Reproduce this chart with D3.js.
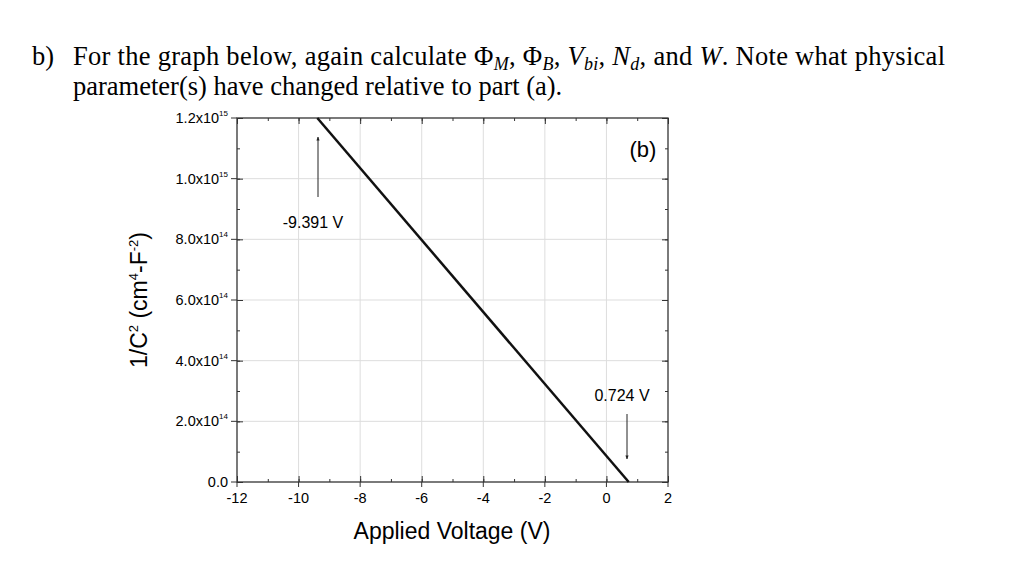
<!DOCTYPE html>
<html><head><meta charset="utf-8">
<script src="https://cdn.jsdelivr.net/npm/d3@7"></script>
<style>body{margin:0;background:#fff}</style></head>
<body><svg id="c" width="1024" height="577"></svg>
<script>
const lineV = [-9.391, 0.724];
const lineY = [1.2e15, 0];
const xTicks = [-12,-10,-8,-6,-4,-2,0,2];
const yTicks = [0,2e14,4e14,6e14,8e14,1e15,1.2e15];
const yTickMant = ["0.0","2.0x10","4.0x10","6.0x10","8.0x10","1.0x10","1.2x10"];
const yTickExp = ["","14","14","14","14","15","15"];

const svg = d3.select("#c");
const x = d3.scaleLinear().domain([-12,2]).range([237,668]);
const y = d3.scaleLinear().domain([0,1.2e15]).range([482,118]);
const serif = "Liberation Serif, Times New Roman, serif";
const sans = "Liberation Sans, Arial, sans-serif";

// header
const HS = 26.5, SS = 18;
svg.append("text").attr("x",32).attr("y",65).attr("font-family",serif).attr("font-size",HS).text("b)");
const t1 = svg.append("text").attr("x",73).attr("y",65).attr("font-family",serif).attr("font-size",HS).attr("textLength",872);
t1.append("tspan").text("For the graph below, again calculate Φ");
t1.append("tspan").attr("font-style","italic").attr("font-size",SS).attr("dy",5).text("M");
t1.append("tspan").attr("dy",-5).text(", Φ");
t1.append("tspan").attr("font-style","italic").attr("font-size",SS).attr("dy",5).text("B");
t1.append("tspan").attr("dy",-5).text(", ");
t1.append("tspan").attr("font-style","italic").text("V");
t1.append("tspan").attr("font-style","italic").attr("font-size",SS).attr("dy",5).text("bi");
t1.append("tspan").attr("dy",-5).text(", ");
t1.append("tspan").attr("font-style","italic").text("N");
t1.append("tspan").attr("font-style","italic").attr("font-size",SS).attr("dy",5).text("d");
t1.append("tspan").attr("dy",-5).text(", and ");
t1.append("tspan").attr("font-style","italic").text("W");
t1.append("tspan").text(". Note what physical");
svg.append("text").attr("x",73).attr("y",95).attr("font-family",serif).attr("font-size",HS)
  .text("parameter(s) have changed relative to part (a).");

// grid
svg.append("g").selectAll("line").data(xTicks.slice(1,-1)).join("line")
  .attr("x1",d=>x(d)).attr("x2",d=>x(d)).attr("y1",118).attr("y2",482).attr("stroke","#ddd");
svg.append("g").selectAll("line").data(yTicks.slice(1,-1)).join("line")
  .attr("y1",d=>y(d)).attr("y2",d=>y(d)).attr("x1",237).attr("x2",668).attr("stroke","#ddd");

const minorX = d3.range(-12,2.01,1), minorY = d3.range(0,1.2e15+1,1e14);
function ax(gen, tr, vals, size){
  svg.append("g").attr("transform",tr).call(gen.tickValues(vals).tickSize(size).tickFormat(""))
   .call(g=>{g.select(".domain").remove(); g.selectAll("line").attr("stroke","#333");});
}
ax(d3.axisBottom(x),"translate(0,482)",xTicks,-6);
ax(d3.axisBottom(x),"translate(0,482)",minorX,-3);
ax(d3.axisTop(x),"translate(0,118)",xTicks,-6);
ax(d3.axisTop(x),"translate(0,118)",minorX,-3);
ax(d3.axisLeft(y),"translate(237,0)",yTicks,-6);
ax(d3.axisLeft(y),"translate(237,0)",minorY,-3);
ax(d3.axisRight(y),"translate(668,0)",yTicks,-6);
ax(d3.axisRight(y),"translate(668,0)",minorY,-3);
svg.append("g").selectAll("line").data(yTicks).join("line").attr("x1",231).attr("x2",237)
  .attr("y1",d=>y(d)).attr("y2",d=>y(d)).attr("stroke","#333");
svg.append("g").selectAll("line").data(xTicks).join("line").attr("y1",482).attr("y2",487)
  .attr("x1",d=>x(d)).attr("x2",d=>x(d)).attr("stroke","#333");
svg.append("rect").attr("x",237).attr("y",118).attr("width",431).attr("height",364)
  .attr("fill","none").attr("stroke","#333").attr("stroke-width",1.3);

// tick labels
svg.append("g").selectAll("text").data(xTicks).join("text")
  .attr("x",d=>x(d)).attr("y",503).attr("text-anchor","middle").attr("font-family",sans).attr("font-size",14.5)
  .text(d=>d);
const yl = svg.append("g").selectAll("text").data(yTicks).join("text")
  .attr("x",228).attr("y",(d,i)=>y(d)+5).attr("text-anchor","end").attr("font-family",sans).attr("font-size",14.5);
yl.append("tspan").text((d,i)=>yTickMant[i]);
yl.append("tspan").attr("font-size",8).attr("dy",-7).text((d,i)=>yTickExp[i]);

// axis titles
svg.append("text").attr("x",452).attr("y",539).attr("text-anchor","middle").attr("font-family",sans)
  .attr("font-size",23).text("Applied Voltage (V)");
const ylab = svg.append("text").attr("transform","translate(147,300) rotate(-90)").attr("text-anchor","middle")
  .attr("font-family",sans).attr("font-size",23);
ylab.append("tspan").text("1/C");
ylab.append("tspan").attr("font-size",13).attr("dy",-9).text("2");
ylab.append("tspan").attr("dy",9).text(" (cm");
ylab.append("tspan").attr("font-size",13).attr("dy",-9).text("4");
ylab.append("tspan").attr("dy",9).text("-F");
ylab.append("tspan").attr("font-size",13).attr("dy",-9).text("-2");
ylab.append("tspan").attr("dy",9).text(")");

// data line
svg.append("path").datum(lineV.map((v,i)=>[v,lineY[i]]))
  .attr("d",d3.line().x(d=>x(d[0])).y(d=>y(d[1]))).attr("stroke","#111").attr("stroke-width",2.5).attr("fill","none");

// annotations
svg.append("defs").append("marker").attr("id","ah").attr("viewBox","0 0 10 10").attr("refX",9).attr("refY",5)
  .attr("markerWidth",4).attr("markerHeight",8).attr("orient","auto")
  .append("path").attr("d","M0,1L10,5L0,9z").attr("fill","#222");
svg.append("line").attr("x1",318).attr("x2",318).attr("y1",197).attr("y2",137).attr("stroke","#222").attr("marker-end","url(#ah)");
svg.append("text").attr("x",313).attr("y",228).attr("text-anchor","middle").attr("font-family",sans).attr("font-size",16).text("-9.391 V");
svg.append("line").attr("x1",627).attr("x2",627).attr("y1",414).attr("y2",459).attr("stroke","#222").attr("marker-end","url(#ah)");
svg.append("text").attr("x",622).attr("y",401).attr("text-anchor","middle").attr("font-family",sans).attr("font-size",16).text("0.724 V");
svg.append("text").attr("x",643).attr("y",157).attr("text-anchor","middle").attr("font-family",sans).attr("font-size",22).text("(b)");
</script></body></html>
